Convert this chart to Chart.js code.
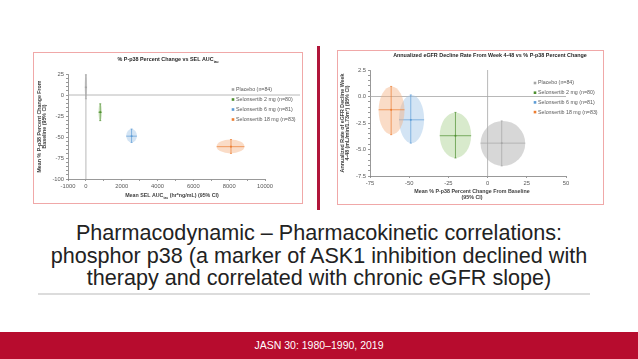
<!DOCTYPE html>
<html>
<head>
<meta charset="utf-8">
<script src="https://cdn.jsdelivr.net/npm/chart.js"></script>
<style>
  body { margin: 0; background: #fff; width: 638px; height: 359px; overflow: hidden; position: relative;
         font-family: "Liberation Sans", Arial, sans-serif; }
  .box { position: absolute; border: 1px solid #f0a8a8; box-sizing: border-box; }
  #box1 { left: 33px; top: 52px; width: 270px; height: 152px; }
  #box2 { left: 337px; top: 50px; width: 267px; height: 155px; }
  .box canvas { display: block; }
  #sep { position: absolute; left: 317px; top: 46px; width: 3px; height: 164px; background: #b0163a; }
  #heading { position: absolute; left: 0; top: 222px; width: 638px; text-align: center;
             font-size: 21.6px; line-height: 22.5px; color: #222; }
  #rule { position: absolute; left: 38px; top: 293px; width: 552px; height: 2px; background: #dcdcdc; }
  #footer { position: absolute; left: 0; top: 332px; width: 638px; height: 27px; background: #b70c2e;
            color: #fff; font-size: 10.5px; text-align: center; line-height: 27px; }
</style>
</head>
<body>
<div class="box" id="box1"><canvas id="chart1" width="268" height="150"></canvas></div>
<div id="sep"></div>
<div class="box" id="box2"><canvas id="chart2" width="265" height="153"></canvas></div>
<div id="heading">Pharmacodynamic – Pharmacokinetic correlations:<br>phosphor p38 (a marker of ASK1 inhibition declined with<br>therapy and correlated with chronic eGFR slope)</div>
<div id="rule"></div>
<div id="footer">JASN 30: 1980–1990, 2019</div>

<script>
// groups
const groups = ["Placebo (n=84)", "Selonsertib 2 mg (n=80)", "Selonsertib 6 mg (n=81)", "Selonsertib 18 mg (n=83)"];

// SEL AUCtau (hr*ng/mL), mean and 95% CI
const aucMean = [0, 800, 2550, 8100];
const aucLo = [-60, 700, 2250, 7300];
const aucHi = [60, 900, 2850, 8850];

// % P-p38 change from baseline, mean and 95% CI
const p38Mean = [9, -20.5, -49, -61.5];
const p38Lo = [-4.5, -30.5, -56.5, -69.5];
const p38Hi = [24, -10.5, -40.5, -53];

// annualized eGFR decline wk 4-48, mean and 95% CI
const egfrMean = [-4.4, -3.7, -2.2, -1.25];
const egfrLo = [-6.55, -5.8, -4.4, -3.6];
const egfrHi = [-2.3, -1.5, 0.15, 0.95];

// tick labels
const xTicks1 = [-1000, 0, 2000, 4000, 6000, 8000, 10000];
const yTicks1 = [25, 0, -25, -50, -75, -100];
const xTicks2 = [-75, -50, -25, 0, 25, 50];
const yTicks2 = [2.5, 0, -2.5, -5, -7.5];

const colors = ['#a5a5a5', '#4e8f2f', '#5b9bd5', '#ed7d31'];
const fills = ['rgba(175,175,175,0.5)', 'rgba(169,209,142,0.45)', 'rgba(157,195,230,0.45)', 'rgba(244,177,131,0.45)'];

const FONT = '"Liberation Sans", Arial, sans-serif';
Chart.defaults.font.family = FONT;
Chart.defaults.color = '#595959';

function drawRich(ctx, parts, x, y, size, color) {
  const big = 'bold ' + size + 'px ' + FONT;
  const small = 'bold ' + (size * 0.6) + 'px ' + FONT;
  let w = 0;
  parts.forEach(p => { ctx.font = p.sub ? small : big; w += ctx.measureText(p.t).width; });
  let cx = x - w / 2;
  ctx.fillStyle = color;
  ctx.textAlign = 'left';
  ctx.textBaseline = 'middle';
  parts.forEach(p => {
    ctx.font = p.sub ? small : big;
    ctx.fillText(p.t, cx, p.sub ? y + size * 0.35 : y);
    cx += ctx.measureText(p.t).width;
  });
}

// ellipses + error bars + zero lines + legend + titles
function makeDecor(xm, xl, xh, ym, yl, yh, cfg) {
  return {
    id: 'decor',
    beforeDatasetsDraw(chart) {
      const ctx = chart.ctx, xs = chart.scales.x, ys = chart.scales.y, a = chart.chartArea;
      ctx.save();
      // zero reference lines
      ctx.strokeStyle = '#a6a6a6';
      ctx.lineWidth = 0.8;
      ctx.beginPath();
      const y0 = ys.getPixelForValue(0), x0 = xs.getPixelForValue(0);
      ctx.moveTo(a.left, y0); ctx.lineTo(cfg.zeroRight(chart), y0);
      ctx.moveTo(x0, a.top); ctx.lineTo(x0, a.bottom);
      ctx.stroke();
      for (let i = 0; i < xm.length; i++) {
        const px1 = xs.getPixelForValue(xl[i]), px2 = xs.getPixelForValue(xh[i]);
        const py1 = ys.getPixelForValue(yl[i]), py2 = ys.getPixelForValue(yh[i]);
        ctx.fillStyle = fills[i];
        ctx.beginPath();
        ctx.ellipse((px1 + px2) / 2, (py1 + py2) / 2, Math.max(Math.abs(px2 - px1) / 2, 1.2),
                    Math.abs(py2 - py1) / 2, 0, 0, Math.PI * 2);
        ctx.fill();
        const cx = xs.getPixelForValue(xm[i]), cy = ys.getPixelForValue(ym[i]);
        ctx.strokeStyle = colors[i];
        ctx.lineWidth = 0.7;
        ctx.beginPath();
        ctx.moveTo(px1, cy); ctx.lineTo(px2, cy);
        ctx.moveTo(cx, py1); ctx.lineTo(cx, py2);
        ctx.moveTo(cx - 1, py1); ctx.lineTo(cx + 1, py1);
        ctx.moveTo(cx - 1, py2); ctx.lineTo(cx + 1, py2);
        ctx.stroke();
      }
      ctx.restore();
    },
    afterDraw(chart) {
      const ctx = chart.ctx, a = chart.chartArea;
      ctx.save();
      // legend
      groups.forEach((g, i) => {
        const ly = cfg.legendY + i * cfg.legendStep;
        ctx.fillStyle = colors[i];
        ctx.fillRect(cfg.legendX - 1.3, ly - 1.3, 2.6, 2.6);
        ctx.fillStyle = '#595959';
        ctx.font = '5.3px ' + FONT;
        ctx.textAlign = 'left';
        ctx.textBaseline = 'middle';
        ctx.fillText(g, cfg.legendX + 3, ly);
      });
      // chart title
      drawRich(ctx, cfg.title, cfg.titleX, cfg.titleY, 5.4, '#262626');
      // x axis title
      cfg.xTitle.forEach((line, k) => drawRich(ctx, line, cfg.xTitleX, cfg.xTitleY + k * 6, 5.3, '#404040'));
      // y axis title, rotated
      ctx.translate(0, (a.top + a.bottom) / 2);
      ctx.rotate(-Math.PI / 2);
      cfg.yTitle.forEach((line, k) => drawRich(ctx, line, 0, cfg.yTitleX + k * 5, 5.3, '#404040'));
      ctx.restore();
    }
  };
}

function axis(min, max, step, labels, fmt, size) {
  return {
    type: 'linear', min: min, max: max,
    afterFit(s) { if (s.isHorizontal()) { s.height = size; } else { s.width = size; } },
    border: { display: true, color: '#7f7f7f', width: 0.8 },
    grid: { drawOnChartArea: false, drawTicks: true, tickLength: 2, tickColor: '#7f7f7f', tickWidth: 0.8 },
    ticks: {
      stepSize: step, autoSkip: false, padding: 2, maxRotation: 0,
      font: { size: 5.8 }, color: '#595959',
      callback: v => labels.some(t => Math.abs(t - v) < 1e-9) ? fmt(v) : ''
    }
  };
}

function points(xm, ym) {
  return groups.map((g, i) => ({
    label: g,
    data: [{ x: xm[i], y: ym[i] }],
    backgroundColor: colors[i],
    borderColor: colors[i],
    pointStyle: 'rect',
    pointRadius: 1.2,
    borderWidth: 0
  }));
}

new Chart('chart1', {
  type: 'scatter',
  data: { datasets: points(aucMean, p38Mean) },
  options: {
    responsive: false,
    animation: false,
    layout: { padding: { top: 21, right: 37, left: 0, bottom: 0 } },
    plugins: { legend: { display: false }, tooltip: { enabled: false } },
    scales: {
      x: axis(-1000, 10000, 1000, xTicks1, v => String(v), 24),
      y: axis(-100, 25, 5, yTicks1, v => String(v), 34)
    }
  },
  plugins: [makeDecor(aucMean, aucLo, aucHi, p38Mean, p38Lo, p38Hi, {
    zeroRight: c => c.width - 2,
    legendX: 199, legendY: 36.5, legendStep: 10,
    title: [{ t: '% P-p38 Percent Change vs SEL AUC' }, { t: 'tau', sub: true }],
    titleX: 134, titleY: 7,
    xTitle: [[{ t: 'Mean SEL AUC' }, { t: 'tau', sub: true }, { t: ' (hr*ng/mL) (95% CI)' }]],
    xTitleX: 138, xTitleY: 143,
    yTitle: [[{ t: 'Mean % P-p38 Percent Change From' }], [{ t: 'Baseline (95% CI)' }]],
    yTitleX: 5.5
  })]
});

new Chart('chart2', {
  type: 'scatter',
  data: { datasets: points(p38Mean, egfrMean) },
  options: {
    responsive: false,
    animation: false,
    layout: { padding: { top: 19, right: 37, left: 0, bottom: 0 } },
    plugins: { legend: { display: false }, tooltip: { enabled: false } },
    scales: {
      x: axis(-75, 50, 25, xTicks2, v => String(v), 28),
      y: axis(-7.5, 2.5, 0.5, yTicks2, v => v.toFixed(1), 32)
    }
  },
  plugins: [makeDecor(p38Mean, p38Lo, p38Hi, egfrMean, egfrLo, egfrHi, {
    zeroRight: c => c.chartArea.right,
    legendX: 197, legendY: 32, legendStep: 9.7,
    title: [{ t: 'Annualized eGFR Decline Rate From Week 4-48 vs % P-p38 Percent Change' }],
    titleX: 152, titleY: 5,
    xTitle: [[{ t: 'Mean % P-p38 Percent Change From Baseline' }], [{ t: '(95% CI)' }]],
    xTitleX: 134, xTitleY: 141,
    yTitle: [[{ t: 'Annualized Rate of eGFR Decline Week' }], [{ t: '4-48 (mL/min/1.73m²) (95% CI)' }]],
    yTitleX: 4.5
  })]
});
</script>
</body>
</html>
